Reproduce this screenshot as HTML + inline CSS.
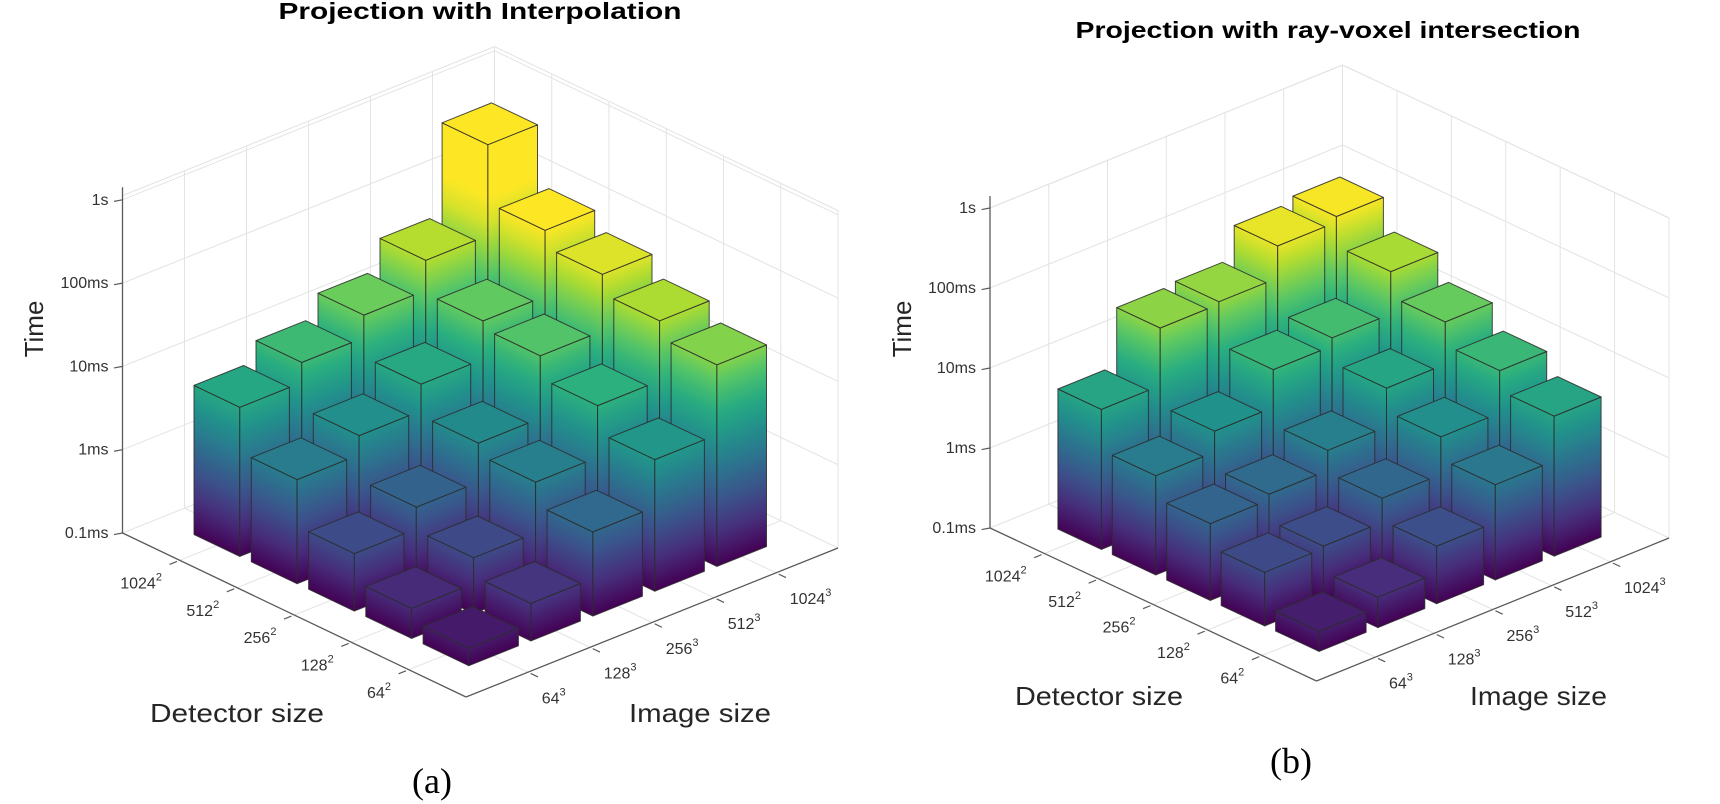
<!DOCTYPE html>
<html><head><meta charset="utf-8"><style>
html,body{margin:0;padding:0;background:#fff;}
svg{display:block;}
</style></head><body>
<svg id="s" xmlns="http://www.w3.org/2000/svg" width="1720" height="804" viewBox="0 0 1720 804">
<defs id="defs"></defs>
<g id="g"></g>
<text x="480" y="19" text-anchor="middle" font-family="Liberation Sans, sans-serif" font-weight="bold" font-size="23" textLength="403" lengthAdjust="spacingAndGlyphs" fill="#000">Projection with Interpolation</text>
<text x="1328" y="38" text-anchor="middle" font-family="Liberation Sans, sans-serif" font-weight="bold" font-size="23" textLength="505" lengthAdjust="spacingAndGlyphs" fill="#000">Projection with ray-voxel intersection</text>
<text x="432" y="793" text-anchor="middle" font-family="Liberation Serif, serif" font-size="36" fill="#000">(a)</text>
<text x="1291" y="773" text-anchor="middle" font-family="Liberation Serif, serif" font-size="36" fill="#000">(b)</text>
<text transform="translate(43,329) rotate(-90)" text-anchor="middle" font-family="Liberation Sans, sans-serif" font-size="26" fill="#262626">Time</text>
<text transform="translate(911,329) rotate(-90)" text-anchor="middle" font-family="Liberation Sans, sans-serif" font-size="26" fill="#262626">Time</text>
<text x="150" y="722" font-family="Liberation Sans, sans-serif" font-size="26" textLength="174" lengthAdjust="spacingAndGlyphs" fill="#262626">Detector size</text>
<text x="629" y="722" font-family="Liberation Sans, sans-serif" font-size="26" textLength="142" lengthAdjust="spacingAndGlyphs" fill="#262626">Image size</text>
<text x="1015" y="705" font-family="Liberation Sans, sans-serif" font-size="26" textLength="168" lengthAdjust="spacingAndGlyphs" fill="#262626">Detector size</text>
<text x="1470" y="705" font-family="Liberation Sans, sans-serif" font-size="26" textLength="137" lengthAdjust="spacingAndGlyphs" fill="#262626">Image size</text>
</svg>
<script>
(function(){
var NS="http://www.w3.org/2000/svg";
var defs=document.getElementById('defs'), G=document.getElementById('g');
var V=[[68,1,84],[71,45,123],[59,82,139],[44,114,142],[33,145,140],[40,174,128],[94,201,98],[173,220,48],[253,231,37]];
function vir(t){t=Math.max(0,Math.min(1,t));var x=t*8,i=Math.min(7,Math.floor(x)),f=x-i;var a=V[i],b=V[i+1];
return 'rgb('+Math.round(a[0]+(b[0]-a[0])*f)+','+Math.round(a[1]+(b[1]-a[1])*f)+','+Math.round(a[2]+(b[2]-a[2])*f)+')';}
function el(tag,attrs,parent){var e=document.createElementNS(NS,tag);for(var k in attrs)e.setAttribute(k,attrs[k]);(parent||G).appendChild(e);return e;}
var gid=0;
function chart(c){
  var L=c.L,F=c.F,R=c.R,p=c.ppd,CM=3.0;
  function P(d,m,z){return [F[0]+d*(L[0]-F[0])+m*(R[0]-F[0]), F[1]+d*(L[1]-F[1])+m*(R[1]-F[1])-z*p];}
  function line(a,b,col,w){el('line',{x1:a[0],y1:a[1],x2:b[0],y2:b[1],stroke:col,'stroke-width':w});}
  var fr=[1/6,2/6,3/6,4/6,5/6], ZT=c.zt, gc='#e3e3e3';
  // grid walls
  for(var z=0;z<=4;z++){ line(P(1,0,z),P(1,1,z),gc,1); line(P(0,1,z),P(1,1,z),gc,1);}
  for(var i=0;i<5;i++){
    line(P(1,fr[i],0),P(1,fr[i],ZT),gc,1); line(P(fr[i],1,0),P(fr[i],1,ZT),gc,1);
    line(P(fr[i],0,0),P(fr[i],1,0),gc,1); line(P(0,fr[i],0),P(1,fr[i],0),gc,1);
  }
  line(P(1,1,0),P(1,1,ZT),gc,1);
  line(P(1,0,ZT),P(1,1,ZT),gc,1); line(P(0,1,ZT),P(1,1,ZT),gc,1);
  line(P(0,1,0),P(0,1,ZT),gc,1);
  // axes
  var ac='#5a5a5a';
  line(P(1,0,0),P(1,0,c.zaxis),ac,1.3);
  line(P(1,0,0),P(0,0,0),ac,1.3);
  line(P(0,0,0),P(0,1,0),ac,1.3);
  function unit(v){var l=Math.hypot(v[0],v[1]);return [v[0]/l,v[1]/l];}
  var uR=unit([R[0]-F[0],R[1]-F[1]]), uL=unit([L[0]-F[0],L[1]-F[1]]);
  var zl=['0.1ms','1ms','10ms','100ms','1s'];
  for(var z=0;z<=4;z++){var a=P(1,0,z);line(a,[a[0]-7*uR[0]*1.3,a[1]-7*uR[1]*0.6],ac,1.2);
    var t=el('text',{x:a[0]-14,y:a[1]+5,'text-anchor':'end','font-family':'Liberation Sans, sans-serif','font-size':16,fill:'#333'});t.textContent=zl[z];}
  var dl=['64','128','256','512','1024'];
  for(var i=0;i<5;i++){
    var a=P(fr[i],0,0);a=[a[0]-3*uR[0],a[1]-3*uR[1]];var b=[a[0]-8*uR[0],a[1]-8*uR[1]];line(a,b,ac,1.2);
    var t=el('text',{x:a[0]-15,y:a[1]+27,'text-anchor':'end','font-family':'Liberation Sans, sans-serif','font-size':16,fill:'#333'});
    t.innerHTML=dl[i]+'<tspan dy="-8" font-size="11">2</tspan>';
    var a2=P(0,fr[i],0);a2=[a2[0]-3*uL[0],a2[1]-3*uL[1]];var b2=[a2[0]-8*uL[0],a2[1]-8*uL[1]];line(a2,b2,ac,1.2);
    var t2=el('text',{x:a2[0]+11,y:a2[1]+30,'font-family':'Liberation Sans, sans-serif','font-size':16,fill:'#333'});
    t2.innerHTML=dl[i]+'<tspan dy="-8" font-size="11">3</tspan>';
  }
  // bars
  var w=0.4/6, bars=[];
  for(var j=0;j<5;j++)for(var i=0;i<5;i++)bars.push([i,j,c.h[j][i]]);
  bars.sort(function(a,b){return (b[0]+b[1])-(a[0]+a[1]);});
  function grad(p0,e,h){
    var n=unit([-e[1],e[0]]); if(n[1]>0)n=[-n[0],-n[1]];
    var tproj=n[1]*(-h*p); var id='g'+(gid++);
    var lg=el('linearGradient',{id:id,gradientUnits:'userSpaceOnUse',x1:p0[0],y1:p0[1],x2:p0[0]+n[0]*tproj,y2:p0[1]+n[1]*tproj},defs);
    for(var s=0;s<=12;s++){var f=s/12;el('stop',{offset:f,'stop-color':vir(f*h/CM)},lg);}
    return 'url(#'+id+')';
  }
  function poly(pts,fill){el('polygon',{points:pts.map(function(q){return q[0].toFixed(1)+','+q[1].toFixed(1);}).join(' '),fill:fill,stroke:'#2b2b2b','stroke-width':1,'stroke-opacity':0.85,'stroke-linejoin':'round'});}
  bars.forEach(function(b){
    var d0=fr[b[0]]-w,d1=fr[b[0]]+w,m0=fr[b[1]]-w,m1=fr[b[1]]+w,h=b[2];
    var p0=P(d0,m0,0);
    poly([P(d1,m0,0),P(d0,m0,0),P(d0,m0,h),P(d1,m0,h)],grad(p0,[L[0]-F[0],L[1]-F[1]],h));
    poly([P(d0,m0,0),P(d0,m1,0),P(d0,m1,h),P(d0,m0,h)],grad(p0,[R[0]-F[0],R[1]-F[1]],h));
    poly([P(d0,m0,h),P(d1,m0,h),P(d1,m1,h),P(d0,m1,h)],vir(h/CM));
  });
}
chart({L:[122.5,533],F:[466,697],R:[838,548],ppd:83.3,zt:4.05,zaxis:4.15,
 h:[[0.21,0.36,0.69,1.25,1.79],[0.45,0.67,0.95,1.48,2.03],[1.01,1.28,1.42,1.8,2.3],[1.58,1.9,2.17,2.26,2.66],[2.42,2.62,2.85,3.05,3.75]]});
chart({L:[990,528],F:[1316.5,681],R:[1669,538],ppd:80,zt:4.0,zaxis:4.15,
 h:[[0.25,0.67,0.96,1.24,1.75],[0.38,0.7,1.03,1.5,2.47],[0.72,1.0,1.28,1.97,2.5],[1.19,1.47,1.76,2.07,2.9],[1.75,2.0,2.29,2.6,2.97]]});
})();
</script>
</body></html>
